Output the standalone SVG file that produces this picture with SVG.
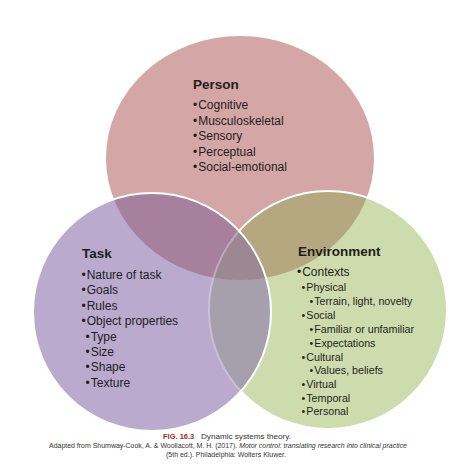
<svg xmlns="http://www.w3.org/2000/svg" width="474" height="470" viewBox="0 0 474 470">
<style>
text{font-family:"Liberation Sans",Arial,sans-serif;fill:#1e1e1e}
.h{font-size:13.5px;font-weight:bold}
.b{font-size:12px}
.s{font-size:10.7px}
.cap{font-size:8px;fill:#333}
.ref{font-size:6.5px;fill:#333}
</style>
<defs>
<ellipse id="pe" cx="240" cy="158" rx="134" ry="122"/>
<circle id="tc" cx="152" cy="312" r="119"/>
<circle id="ec" cx="328" cy="310" r="119"/>
<clipPath id="clipP"><use href="#pe"/></clipPath>
<clipPath id="clipE"><use href="#ec"/></clipPath>
<mask id="mEnv" maskUnits="userSpaceOnUse" x="0" y="0" width="474" height="470">
<rect width="474" height="470" fill="#fff"/>
<use href="#tc" fill="#4d4d4d"/>
</mask>
</defs>
<rect width="474" height="470" fill="#fff"/>
<g id="circles">
<use href="#pe" fill="#d4a6a5"/>
<use href="#ec" fill="#cedcad"/>
<use href="#tc" fill="#baaacd"/>
<use href="#ec" fill="#b5a77f" clip-path="url(#clipP)"/>
<use href="#tc" fill="#a6809c" clip-path="url(#clipP)"/>
<use href="#tc" fill="#a5a0ac" clip-path="url(#clipE)"/>
<g clip-path="url(#clipP)"><use href="#tc" fill="#9c8892" clip-path="url(#clipE)"/></g>
<use href="#ec" fill="none" stroke="#fff" stroke-width="2" mask="url(#mEnv)"/>
<use href="#tc" fill="none" stroke="#fff" stroke-width="2"/>
</g>
<g id="person">
<text class="h" x="193" y="89">Person</text>
<text class="b" x="193" y="109">•<tspan dx="1">Cognitive</tspan></text>
<text class="b" x="193" y="124.5">•<tspan dx="1">Musculoskeletal</tspan></text>
<text class="b" x="193" y="140">•<tspan dx="1">Sensory</tspan></text>
<text class="b" x="193" y="155.5">•<tspan dx="1">Perceptual</tspan></text>
<text class="b" x="193" y="171">•<tspan dx="1">Social-emotional</tspan></text>
</g>
<g id="task">
<text class="h" x="82" y="258">Task</text>
<text class="b" x="81.5" y="279">•<tspan dx="1">Nature of task</tspan></text>
<text class="b" x="81.5" y="294">•<tspan dx="1">Goals</tspan></text>
<text class="b" x="81.5" y="309.5">•<tspan dx="1">Rules</tspan></text>
<text class="b" x="81.5" y="325">•<tspan dx="1">Object properties</tspan></text>
<text class="b" x="85.5" y="340.5">•<tspan dx="1">Type</tspan></text>
<text class="b" x="85.5" y="356">•<tspan dx="1">Size</tspan></text>
<text class="b" x="85.5" y="371">•<tspan dx="1">Shape</tspan></text>
<text class="b" x="85.5" y="386.5">•<tspan dx="1">Texture</tspan></text>
</g>
<g id="environment">
<text class="h" x="298" y="256">Environment</text>
<text class="b" x="297" y="276">•<tspan dx="1">Contexts</tspan></text>
<text class="s" x="301.5" y="291">•<tspan dx="1">Physical</tspan></text>
<text class="s" x="309.5" y="304.5">•<tspan dx="1">Terrain, light, novelty</tspan></text>
<text class="s" x="301.5" y="318.5">•<tspan dx="1">Social</tspan></text>
<text class="s" x="309.5" y="333">•<tspan dx="1">Familiar or unfamiliar</tspan></text>
<text class="s" x="309.5" y="347">•<tspan dx="1">Expectations</tspan></text>
<text class="s" x="301.5" y="360.5">•<tspan dx="1">Cultural</tspan></text>
<text class="s" x="309.5" y="374">•<tspan dx="1">Values, beliefs</tspan></text>
<text class="s" x="301.5" y="388">•<tspan dx="1">Virtual</tspan></text>
<text class="s" x="301.5" y="401.5">•<tspan dx="1">Temporal</tspan></text>
<text class="s" x="301.5" y="414.5">•<tspan dx="1">Personal</tspan></text>
</g>
<g id="caption">
<text x="163" y="439" style="font-size:7.5px;font-weight:bold;fill:#a3282e">FIG. 16.3</text>
<text class="cap" x="201" y="439" textLength="90" lengthAdjust="spacingAndGlyphs">Dynamic systems theory.</text>
<text class="ref" x="49" y="448" textLength="358" lengthAdjust="spacingAndGlyphs">Adapted from Shumway-Cook, A. &amp; Woollacott, M. H. (2017). <tspan font-style="italic">Motor control: translating research into clinical practice</tspan></text>
<text class="ref" x="166" y="457" textLength="120" lengthAdjust="spacingAndGlyphs">(5th ed.). Philadelphia: Wolters Kluwer.</text>
</g>
</svg>
